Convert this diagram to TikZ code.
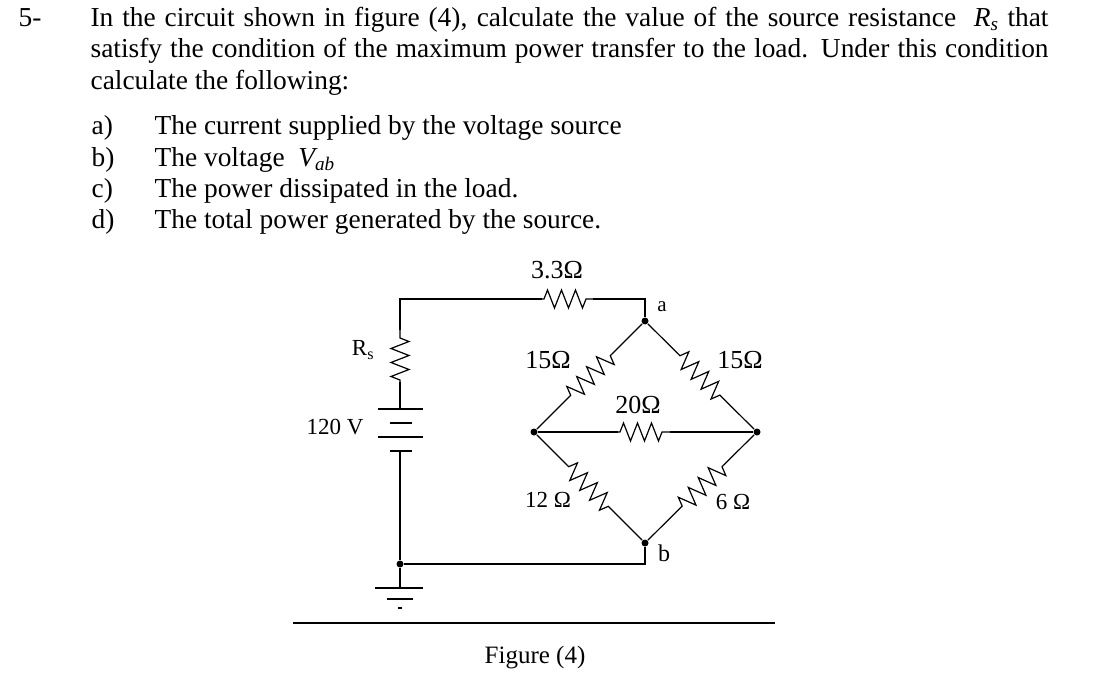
\documentclass[tikz,border=0pt]{standalone}
\usepackage{fontspec}
\setmainfont{Liberation Serif}
\usetikzlibrary{decorations.pathmorphing,calc}
\begin{document}
\begin{tikzpicture}[x=1pt,y=-1pt,line width=1.2pt,
  txt/.style={anchor=base west,inner sep=0pt,font=\fontsize{27.4}{30}\selectfont},
  lbl/.style={inner sep=0pt,font=\fontsize{26}{28}\selectfont},
  res/.style={decorate,decoration={zigzag,segment length=14,amplitude=9,pre length=2,post length=2}},
  dot/.style={circle,fill,inner sep=0pt,minimum size=7pt}]
\useasboundingbox (0,0) rectangle (1104,677);
\node[txt] (n5) at (18,27) {5-};
\node[txt] (l1) at (90,27) {\makebox[958pt][s]{In the circuit shown in figure (4), calculate the value of the source resistance \ \textit{R\textsubscript{s}} that}};
\node[txt] (l2) at (90,58) {\makebox[958pt][s]{satisfy the condition of the maximum power transfer to the load. Under this condition}};
\node[txt] (l3) at (90,89) {calculate the following:};
\foreach \l/\t/\y in {a/The current supplied by the voltage source/135, b/{The voltage \ \textit{V\textsubscript{ab}}}/166, c/The power dissipated in the load./197, d/The total power generated by the source./228}{
  \node[txt] (i\l) at (91,\y) {\l)};
  \node[txt] (t\l) at (154,\y) {\t};
}
% circuit coordinates
\coordinate (tl) at (400,299);
\coordinate (r1a) at (542,299);
\coordinate (r1b) at (593,299);
\coordinate (tr) at (645,299);
\node[dot] (a) at (645,321) {};
\node[dot] (L) at (534,432) {};
\node[dot] (R) at (757,432) {};
\node[dot] (b) at (645,543) {};
\coordinate (br) at (645,564);
\node[dot] (g) at (400,564) {};
\coordinate (rsa) at (400,330);
\coordinate (rsb) at (400,382);
\coordinate (bt) at (400,409);
\coordinate (bb) at (400,451);
\coordinate (gt) at (400,588);
% wires
\draw (bt) -- (rsb);
\draw[res] (rsb) -- (rsa);
\draw (rsa) -- (tl) -- (r1a);
\draw[res] (r1a) -- (r1b);
\draw (r1b) -- (tr) -- (a);
\foreach \p/\q in {a/L,a/R,L/b,R/b}{
  \draw (\p) -- ($(\p)!0.3!(\q)$);
  \draw[res] ($(\p)!0.3!(\q)$) -- ($(\p)!0.72!(\q)$);
  \draw ($(\p)!0.72!(\q)$) -- (\q);
}
\draw (L) -- (618,432);
\draw[res] (618,432) -- (670,432);
\draw (670,432) -- (R);
\draw (b) -- (br) -- (g);
\draw (bb) -- (g) -- (gt);
% battery
\draw (378,409) -- (423,409);
\draw (390,423) -- (412,423);
\draw (378,437) -- (423,437);
\draw (390,451) -- (412,451);
% ground
\draw (375,588) -- (423,588);
\draw (387,599) -- (413,599);
\draw (398,608) -- (402,608);
% labels
\node[lbl] (l33) at (557,270) {3.3Ω};
\node[lbl,font=\fontsize{21}{24}\selectfont] (la) at (662,307) {a};
\node[lbl,font=\fontsize{24}{24}\selectfont] (lb) at (664,553) {b};
\node[lbl,font=\fontsize{23}{24}\selectfont] (lrs) at (363,350) {R\textsubscript{s}};
\node[lbl,font=\fontsize{23}{24}\selectfont] (lv) at (335,427) {120 V};
\node[lbl] (l15a) at (548,360) {15Ω};
\node[lbl] (l15b) at (740,360) {15Ω};
\node[lbl] (l20) at (638,405) {20Ω};
\node[lbl,font=\fontsize{23}{24}\selectfont] (l12) at (548,500) {12 Ω};
\node[lbl,font=\fontsize{23}{24}\selectfont] (l6) at (733,502) {6 Ω};
\coordinate (hl) at (293,623);
\coordinate (hr) at (775,623);
\draw (hl) -- (hr);
\node[lbl,font=\fontsize{25}{26}\selectfont] (fig) at (535,658) {Figure (4)};
\end{tikzpicture}
\end{document}
